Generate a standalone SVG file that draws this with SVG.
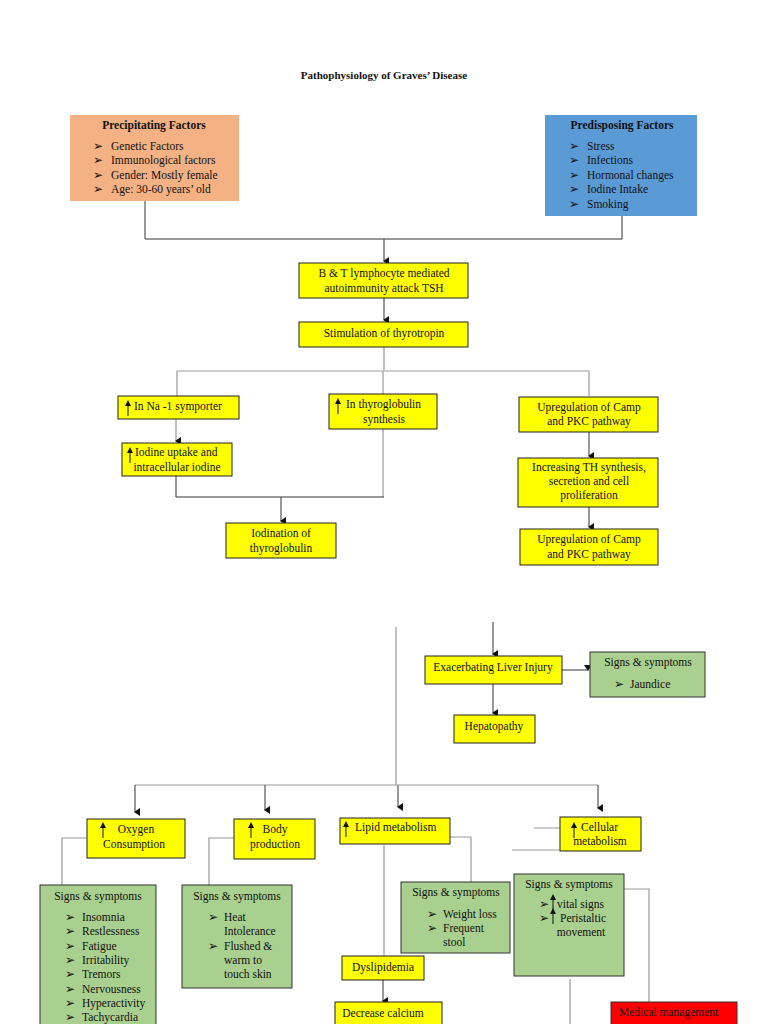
<svg xmlns="http://www.w3.org/2000/svg" width="768" height="1024" viewBox="0 0 768 1024">
<style>
text{font-family:"Liberation Serif","Times New Roman",serif;font-size:11.5px;fill:#111}
.c{text-anchor:middle}
.b{font-weight:bold}
.y{fill:#ffff00;stroke:#222;stroke-width:1}
.g{fill:#a9d08e;stroke:#333;stroke-width:1}
.ln{fill:none;stroke:#333;stroke-width:1}
.lg{fill:none;stroke:#999;stroke-width:1.2}
</style>
<defs>
<marker id="ah" markerWidth="8" markerHeight="8" refX="4" refY="7" orient="auto" markerUnits="userSpaceOnUse" viewBox="0 0 8 8"><path d="M0,2 L8,2 L4,8 z" fill="#111"/></marker>
<symbol id="up" viewBox="0 0 6 16" width="6" height="16" overflow="visible"><path d="M3,5 V16" stroke="#111" stroke-width="1"/><path d="M0,6 L3,0 L6,6 z" fill="#111"/></symbol>
</defs>
<rect width="768" height="1024" fill="#fff"/>
<text x="384" y="79" class="c b" style="font-size:11px">Pathophysiology of Graves’ Disease</text>

<g id="connectors">
<path class="ln" d="M145,201 V239 H622 V216"/>
<path class="ln" d="M384,239 V261" marker-end="url(#ah)"/>
<path class="ln" d="M384,298 V320" marker-end="url(#ah)"/>
<path class="lg" d="M384,347 V370 M177,396 V371 H589 V396"/>
<path class="lg" d="M383,371 V497"/>
<path class="lg" d="M176,419 V441" marker-end="url(#ah)"/>
<path class="ln" d="M176,476 V497 H384"/>
<path class="ln" d="M281,497 V521" marker-end="url(#ah)"/>
<path class="ln" d="M589,432 V456" marker-end="url(#ah)"/>
<path class="ln" d="M589,507 V527" marker-end="url(#ah)"/>
<path class="lg" d="M396,627 V785"/>
<path class="ln" d="M398,785 V807" marker-end="url(#ah)"/>
<path class="ln" d="M493,622 V654" marker-end="url(#ah)"/>
<path class="ln" d="M562,670 H588" marker-end="url(#ah)"/>
<path class="ln" d="M493,684 V713" marker-end="url(#ah)"/>
<path class="lg" d="M135,785 H598"/>
<path class="ln" d="M135,785 V812" marker-end="url(#ah)"/>
<path class="ln" d="M265,785 V810" marker-end="url(#ah)"/>
<path class="ln" d="M598,785 V808" marker-end="url(#ah)"/>
<path class="lg" d="M87,838 H62 V885"/>
<path class="lg" d="M234,838 H209 V885"/>
<path class="lg" d="M450,837 H471 V882"/>
<path class="lg" d="M384,845 V956"/>
<path class="ln" d="M383,980 V1001" marker-end="url(#ah)"/>
<path class="lg" d="M534,828 H560 M512,850 H560"/>
<path class="lg" d="M624,889 H649 V1002"/>
<path class="lg" d="M570,979 V1024"/>
</g>

<g id="precipitating">
<rect x="70" y="115" width="169" height="86" fill="#f4b183"/>
<text x="154" y="129" class="c b">Precipitating Factors</text>
<text x="93" y="150">➢</text><text x="111" y="150">Genetic Factors</text>
<text x="93" y="164">➢</text><text x="111" y="164">Immunological factors</text>
<text x="93" y="179">➢</text><text x="111" y="179">Gender: Mostly female</text>
<text x="93" y="193">➢</text><text x="111" y="193">Age: 30-60 years’ old</text>
</g>
<g id="predisposing">
<rect x="545" y="115" width="152" height="101" fill="#5b9bd5"/>
<text x="622" y="129" class="c b">Predisposing Factors</text>
<text x="569" y="150">➢</text><text x="587" y="150">Stress</text>
<text x="569" y="164">➢</text><text x="587" y="164">Infections</text>
<text x="569" y="179">➢</text><text x="587" y="179">Hormonal changes</text>
<text x="569" y="193">➢</text><text x="587" y="193">Iodine Intake</text>
<text x="569" y="208">➢</text><text x="587" y="208">Smoking</text>
</g>
<g id="bt"><rect class="y" x="299" y="263" width="169" height="35"/>
<text x="384" y="277" class="c">B &amp; T lymphocyte mediated</text><text x="384" y="292" class="c">autoimmunity attack TSH</text></g>
<g id="stim"><rect class="y" x="299" y="322" width="169" height="25"/>
<text x="384" y="337" class="c">Stimulation of thyrotropin</text></g>
<g id="na"><rect class="y" x="118" y="396" width="121" height="23"/>
<use href="#up" x="125" y="400"/><text x="134" y="410">In Na -1 symporter</text></g>
<g id="thyro"><rect class="y" x="329" y="394" width="108" height="35"/>
<use href="#up" x="335" y="398"/><text x="346" y="408">In thyroglobulin</text><text x="384" y="423" class="c">synthesis</text></g>
<g id="iodine"><rect class="y" x="122" y="443" width="110" height="33"/>
<use href="#up" x="127" y="447"/><text x="135" y="456">Iodine uptake and</text><text x="177" y="471" class="c">intracellular iodine</text></g>
<g id="iodination"><rect class="y" x="226" y="523" width="110" height="35"/>
<text x="281" y="537" class="c">Iodination of</text><text x="281" y="552" class="c">thyroglobulin</text></g>
<g id="camp1"><rect class="y" x="519" y="397" width="139" height="35"/>
<text x="589" y="411" class="c">Upregulation of Camp</text><text x="589" y="425" class="c">and PKC pathway</text></g>
<g id="th"><rect class="y" x="518" y="458" width="140" height="49"/>
<text x="589" y="471" class="c">Increasing TH synthesis,</text><text x="589" y="485" class="c">secretion and cell</text><text x="589" y="499" class="c">proliferation</text></g>
<g id="camp2"><rect class="y" x="520" y="529" width="138" height="36"/>
<text x="589" y="543" class="c">Upregulation of Camp</text><text x="589" y="558" class="c">and PKC pathway</text></g>
<g id="liver"><rect class="y" x="425" y="656" width="137" height="28"/>
<text x="493" y="671" class="c">Exacerbating Liver Injury</text></g>
<g id="ss-liver"><rect class="g" x="590" y="652" width="115" height="45"/>
<text x="648" y="666" class="c">Signs &amp; symptoms</text><text x="614" y="688">➢</text><text x="630" y="688">Jaundice</text></g>
<g id="hepato"><rect class="y" x="454" y="715" width="81" height="28"/>
<text x="494" y="730" class="c">Hepatopathy</text></g>
<g id="oxygen"><rect class="y" x="87" y="819" width="98" height="39"/>
<use href="#up" x="100" y="822"/><text x="136" y="833" class="c">Oxygen</text><text x="134" y="848" class="c">Consumption</text></g>
<g id="ss-oxygen"><rect class="g" x="40" y="885" width="116" height="145"/>
<text x="98" y="900" class="c">Signs &amp; symptoms</text>
<text x="65" y="921">➢</text><text x="82" y="921">Insomnia</text>
<text x="65" y="935">➢</text><text x="82" y="935">Restlessness</text>
<text x="65" y="950">➢</text><text x="82" y="950">Fatigue</text>
<text x="65" y="964">➢</text><text x="82" y="964">Irritability</text>
<text x="65" y="978">➢</text><text x="82" y="978">Tremors</text>
<text x="65" y="993">➢</text><text x="82" y="993">Nervousness</text>
<text x="65" y="1007">➢</text><text x="82" y="1007">Hyperactivity</text>
<text x="65" y="1021">➢</text><text x="82" y="1021">Tachycardia</text></g>
<g id="body"><rect class="y" x="234" y="819" width="81" height="40"/>
<use href="#up" x="248" y="822"/><text x="275" y="833" class="c">Body</text><text x="275" y="848" class="c">production</text></g>
<g id="ss-body"><rect class="g" x="182" y="885" width="110" height="103"/>
<text x="237" y="900" class="c">Signs &amp; symptoms</text>
<text x="208" y="921">➢</text><text x="224" y="921">Heat</text><text x="224" y="935">Intolerance</text>
<text x="208" y="950">➢</text><text x="224" y="950">Flushed &amp;</text><text x="224" y="964">warm to</text><text x="224" y="978">touch skin</text></g>
<g id="lipid"><rect class="y" x="340" y="818" width="110" height="26"/>
<use href="#up" x="343" y="821"/><text x="355" y="831">Lipid metabolism</text></g>
<g id="ss-lipid"><rect class="g" x="401" y="882" width="109" height="71"/>
<text x="456" y="896" class="c">Signs &amp; symptoms</text>
<text x="427" y="918">➢</text><text x="443" y="918">Weight loss</text>
<text x="427" y="932">➢</text><text x="443" y="932">Frequent</text><text x="443" y="946">stool</text></g>
<g id="dys"><rect class="y" x="342" y="956" width="82" height="24"/>
<text x="383" y="971" class="c">Dyslipidemia</text></g>
<g id="calcium"><rect class="y" x="335" y="1002" width="107" height="30"/>
<text x="383" y="1017" class="c">Decrease calcium</text></g>
<g id="cellular"><rect class="y" x="560" y="817" width="81" height="34"/>
<use href="#up" x="571" y="822"/><text x="581" y="831">Cellular</text><text x="600" y="845" class="c">metabolism</text></g>
<g id="ss-cell"><rect class="g" x="514" y="874" width="110" height="102"/>
<text x="569" y="888" class="c">Signs &amp; symptoms</text>
<text x="539" y="908">➢</text><use href="#up" x="550" y="894"/><text x="557" y="908">vital signs</text>
<text x="539" y="922">➢</text><use href="#up" x="550" y="908"/><text x="560" y="922">Peristaltic</text>
<text x="581" y="936" class="c">movement</text></g>
<g id="medical"><rect x="611" y="1002" width="126" height="30" fill="#ff0000" stroke="#333"/>
<text x="619" y="1016">Medical management</text></g>
</svg>
